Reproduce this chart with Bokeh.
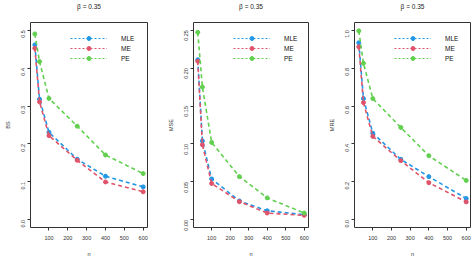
from bokeh.plotting import figure
from bokeh.layouts import row
from bokeh.models import FixedTicker, Legend, LegendItem, ColumnDataSource, Title
from bokeh.embed import file_html
from bokeh.resources import INLINE
from math import pi

# ---- data ----
n = [25, 50, 100, 250, 400, 600]
bs_mle = [0.461, 0.318, 0.231, 0.160, 0.115, 0.087]
bs_me = [0.452, 0.311, 0.222, 0.157, 0.100, 0.074]
bs_pe = [0.490, 0.417, 0.320, 0.247, 0.171, 0.122]
mse_mle = [0.211, 0.104, 0.054, 0.025, 0.012, 0.007]
mse_me = [0.209, 0.099, 0.048, 0.024, 0.009, 0.006]
mse_pe = [0.247, 0.175, 0.102, 0.057, 0.029, 0.009]
mre_mle = [0.933, 0.639, 0.457, 0.319, 0.228, 0.113]
mre_me = [0.912, 0.618, 0.440, 0.312, 0.196, 0.095]
mre_pe = [0.996, 0.825, 0.639, 0.487, 0.338, 0.208]

series_names = ["MLE", "ME", "PE"]
title_text = "\u03b2 = 0.35"
x_label = "n"
x_ticks = [100, 200, 300, 400, 500, 600]

panels = [
    dict(ylabel="BS", data=[bs_mle, bs_me, bs_pe], ylim=(0, 0.5),
         yticks=[0.0, 0.1, 0.2, 0.3, 0.4, 0.5],
         ytick_labels=["0.0", "0.1", "0.2", "0.3", "0.4", "0.5"],
         borders=(30, 11)),
    dict(ylabel="MSE", data=[mse_mle, mse_me, mse_pe], ylim=(0, 0.25),
         yticks=[0.0, 0.05, 0.10, 0.15, 0.20, 0.25],
         ytick_labels=["0.00", "0.05", "0.10", "0.15", "0.20", "0.25"],
         borders=(35, 8)),
    dict(ylabel="MRE", data=[mre_mle, mre_me, mre_pe], ylim=(0, 1.0),
         yticks=[0.0, 0.2, 0.4, 0.6, 0.8, 1.0],
         ytick_labels=["0.0", "0.2", "0.4", "0.6", "0.8", "1.0"],
         borders=(38, 4)),
]

colors = ["#2297E6", "#DF536B", "#61D04F"]
FONT = "Liberation Sans"
NAN = float("nan")

figs = []
for pan in panels:
    lo, hi = pan["ylim"]
    ext = (hi - lo) * 0.04
    xlo, xhi = min(n), max(n)
    xext = (xhi - xlo) * 0.04
    p = figure(width=158, height=260, output_backend="svg", toolbar_location=None,
               x_range=(xlo - xext, xhi + xext), y_range=(lo - ext, hi + ext),
               min_border_left=pan["borders"][0], min_border_right=pan["borders"][1],
               min_border_top=21, min_border_bottom=33, title=None)
    spacer = Title(text=" ", text_font_size="10px", standoff=0, text_font=FONT)
    real = Title(text=title_text, align="center", text_font=FONT,
                 text_font_size="6.5px", text_font_style="normal",
                 text_color="#222222", standoff=0)
    p.add_layout(spacer, "above")
    p.add_layout(real, "above")
    p.grid.visible = False
    p.outline_line_color = "#333333"
    p.outline_line_width = 1
    p.background_fill_color = "white"
    p.border_fill_color = "white"

    p.xaxis.ticker = FixedTicker(ticks=x_ticks)
    p.yaxis.ticker = FixedTicker(ticks=pan["yticks"])
    p.yaxis.major_label_overrides = {t: l for t, l in zip(pan["yticks"], pan["ytick_labels"])}
    p.yaxis.major_label_orientation = pi / 2
    for ax in (p.xaxis, p.yaxis):
        ax.axis_line_color = None
        ax.major_tick_out = 3
        ax.major_tick_in = 0
        ax.minor_tick_line_color = None
        ax.major_tick_line_color = "#333333"
        ax.major_label_text_font = FONT
        ax.major_label_text_font_size = "5.5px"
        ax.major_label_text_color = "#333333"
        ax.axis_label_text_font = FONT
        ax.axis_label_text_font_size = "5.5px"
        ax.axis_label_text_font_style = "normal"
        ax.axis_label_text_color = "#333333"
    p.xaxis.major_label_standoff = 5
    p.yaxis.major_label_standoff = 4
    p.xaxis.axis_label = x_label
    p.yaxis.axis_label = pan["ylabel"]
    p.xaxis.axis_label_standoff = 8
    p.yaxis.axis_label_standoff = 6

    items = []
    for vals, col, name in zip(pan["data"], colors, series_names):
        p.line(n, vals, line_color=col, line_width=1.6, line_dash="4 3")
        p.scatter(n, vals, marker="circle", size=4, fill_color=col, line_color=col,
                  line_width=1)
        dummy = ColumnDataSource(data=dict(x=[NAN], y=[NAN]))
        lr = p.line("x", "y", source=dummy, line_color=col, line_width=1.2, line_dash="2 2")
        sr = p.scatter("x", "y", source=dummy, marker="circle", fill_color=col,
                       line_color=col, size=4)
        items.append(LegendItem(label=name, renderers=[lr, sr]))

    legend = Legend(items=items, location=(40, 164), padding=0, margin=0,
                    spacing=0, glyph_width=37, glyph_height=10, label_height=10,
                    label_standoff=14, border_line_alpha=0, background_fill_alpha=0,
                    label_text_font=FONT, label_text_font_size="6.5px",
                    label_text_color="#111111")
    p.add_layout(legend, "center")
    figs.append(p)

layout = row(*figs)
open("out.html", "w").write(file_html(layout, INLINE))
